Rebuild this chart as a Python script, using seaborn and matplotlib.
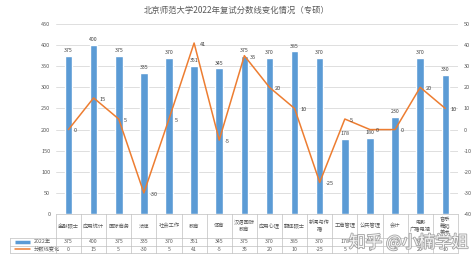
import numpy as np
import pandas as pd
import seaborn as sns
import matplotlib.pyplot as plt
import matplotlib.patheffects as pe
from matplotlib.transforms import blended_transform_factory

categories = ["金融硕士", "应用统计", "国际商务", "法律", "社会工作", "教育", "体育",
              "汉语国际\n教育", "应用心理", "翻译硕士", "新闻与传\n播", "工商管理",
              "公共管理", "会计", "电影\n广播电视", "音乐\n舞蹈\n美术"]
score_2022 = [375, 400, 375, 335, 370, 351, 345, 375, 370, 385, 370, 178, 180, 230, 370, 330]
change = [0, 15, 5, -30, 5, 41, -5, 35, 20, 10, -25, 5, 0, 0, 20, 10]

sns.set_theme(style="white")
plt.rcParams["font.family"] = ["Noto Sans CJK SC", "DejaVu Sans"]
plt.rcParams["axes.unicode_minus"] = False

BLUE = "#5B9BD5"
ORANGE = "#ED7D31"
GRAY = "#595959"
GRID = "#D9D9D9"

fig = plt.figure(figsize=(4.74, 2.61), dpi=100)
ax = fig.add_axes([0.118, 0.18, 0.848, 0.728])

df = pd.DataFrame({"cat": categories, "score": score_2022, "change": change})
sns.barplot(data=df, x="cat", y="score", ax=ax, color=BLUE, width=0.3, saturation=1)
ax.bar_label(ax.containers[0], fontsize=3.8, padding=2, color="#404040")
ax.set_ylim(0, 450)
ax.set_yticks(range(0, 451, 50))
ax.yaxis.grid(True, color=GRID, linewidth=0.6)
ax.set_axisbelow(True)
ax.set_xlabel("")
ax.set_ylabel("")
ax.set_xticklabels([])
ax.tick_params(axis="both", length=0, labelsize=4, colors=GRAY, pad=4)
ax.tick_params(axis="x", labelbottom=False)
for s in ax.spines.values():
    s.set_visible(False)

ax2 = ax.twinx()
xpos = np.arange(len(categories))
sns.lineplot(x=xpos, y=change, ax=ax2, color=ORANGE, linewidth=1.1, sort=False)
ax2.set_ylim(-40, 50)
ax2.set_yticks(range(-40, 51, 10))
ax2.tick_params(axis="y", length=0, labelsize=4, colors=GRAY, pad=4)
for s in ax2.spines.values():
    s.set_visible(False)
for x, v in zip(xpos, change):
    ax2.annotate(str(v), (x, v), xytext=(4, -1), textcoords="offset points",
                 fontsize=4, color="#404040", va="center", ha="left")
ax.set_xlim(-0.5, len(categories) - 0.5)

fig.text(0.5, 0.962, "北京师范大学2022年复试分数线变化情况（专硕）", ha="center", va="center",
         fontsize=6, color=GRAY)

# data table under the chart
tr = blended_transform_factory(ax.transData, ax.transAxes)
y_cat, y_r1, y_r2 = -0.126, -0.166, -0.205
x_left = -0.114
lc = "#BFBFBF"
lw = 0.5
n = len(categories)
ax.plot([-0.5, n - 0.5], [0, 0], transform=tr, color=lc, lw=lw, clip_on=False)
for yy in (y_cat, y_r1, y_r2):
    ax.plot([x_left, 1], [yy, yy], transform=ax.transAxes, color=lc, lw=lw, clip_on=False)
for i in range(n + 1):
    ax.plot([i - 0.5, i - 0.5], [0, y_r2], transform=tr, color=lc, lw=lw, clip_on=False)
ax.plot([x_left, x_left], [y_cat, y_r2], transform=ax.transAxes, color=lc, lw=lw, clip_on=False)

for i, c in enumerate(categories):
    ax.text(i, y_cat / 2, c, transform=tr, ha="center", va="center", fontsize=3.8,
            color=GRAY, linespacing=1.3)
    ax.text(i, (y_cat + y_r1) / 2, str(score_2022[i]), transform=tr, ha="center",
            va="center", fontsize=3.8, color=GRAY)
    ax.text(i, (y_r1 + y_r2) / 2, str(change[i]), transform=tr, ha="center",
            va="center", fontsize=3.8, color=GRAY)

ym1 = (y_cat + y_r1) / 2
ym2 = (y_r1 + y_r2) / 2
ax.plot([x_left + 0.012, x_left + 0.05], [ym1, ym1], transform=ax.transAxes,
        color=BLUE, lw=2.5, solid_capstyle="butt", clip_on=False)
ax.plot([x_left + 0.012, x_left + 0.05], [ym2, ym2], transform=ax.transAxes,
        color=ORANGE, lw=1.1, clip_on=False)
ax.text(x_left + 0.058, ym1, "2022年", transform=ax.transAxes, ha="left", va="center",
        fontsize=3.8, color=GRAY)
ax.text(x_left + 0.058, ym2, "分数线变化", transform=ax.transAxes, ha="left", va="center",
        fontsize=3.8, color=GRAY)

# watermark
fig.text(0.862, 0.07, "知乎 @小楠学姐", ha="center", va="center", fontsize=12,
         color="white", alpha=0.9,
         path_effects=[pe.withStroke(linewidth=1.2, foreground="#9A9A9A")])

fig.savefig("out.png", dpi=100)
